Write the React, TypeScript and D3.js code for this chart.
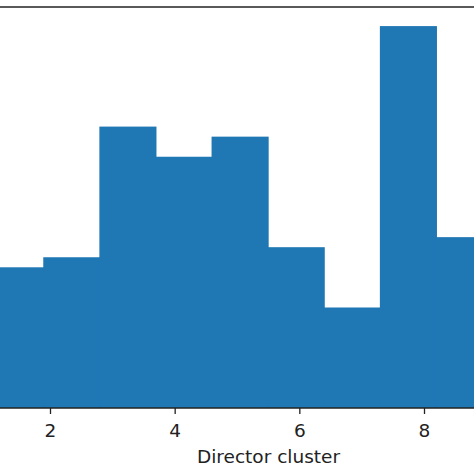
import React, { useEffect, useRef } from "react";
import * as d3 from "d3";

// histogram of director cluster ids, 10 bins from 1 to 10
const binEdges = [1, 1.9, 2.8, 3.7, 4.6, 5.5, 6.4, 7.3, 8.2, 9.1, 10];
const binCounts = [14, 15, 28, 25, 27, 16, 10, 38, 17, 12];
const xTicks = [2, 4, 6, 8];
const xLabel = "Director cluster";

const width = 474;
const height = 474;
const plot = { top: 7, bottom: 408 };
const fontSize = "18.5px";

export default function App() {
  const ref = useRef<SVGSVGElement>(null);

  useEffect(() => {
    const svg = d3.select(ref.current);
    svg.selectAll("*").remove();

    // visible part of the x range: 2 at 50px, 8 at 424px
    const x = d3.scaleLinear().domain([2, 8]).range([50, 424]);
    const y = d3
      .scaleLinear()
      .domain([0, d3.max(binCounts)! * 1.05])
      .range([plot.bottom, plot.top]);

    const bins = binCounts.map((c, i) => ({
      x0: binEdges[i],
      x1: binEdges[i + 1],
      count: c,
    }));

    // bars overlap by half a pixel so no seams show
    svg
      .append("g")
      .selectAll("rect")
      .data(bins)
      .join("rect")
      .attr("x", (d) => x(d.x0) - 0.5)
      .attr("width", (d) => x(d.x1) - x(d.x0) + 1)
      .attr("y", (d) => y(d.count))
      .attr("height", (d) => y(0) - y(d.count))
      .style("fill", "#1f77b4");

    // top spine
    svg
      .append("line")
      .attr("x1", 0)
      .attr("x2", width)
      .attr("y1", plot.top)
      .attr("y2", plot.top)
      .style("stroke", "#222")
      .style("stroke-width", 1.4);

    // x axis
    const axis = svg
      .append("g")
      .attr("transform", `translate(0, ${plot.bottom})`)
      .call(
        d3
          .axisBottom(x)
          .tickValues(xTicks)
          .tickFormat(d3.format("d"))
          .tickSize(6)
      );
    axis.select(".domain").remove();
    axis
      .append("line")
      .attr("x1", 0)
      .attr("x2", width)
      .style("stroke", "#222")
      .style("stroke-width", 1.4);
    axis.selectAll(".tick line").style("stroke", "#222").style("stroke-width", 1.3);
    axis
      .selectAll(".tick text")
      .attr("y", 29)
      .attr("dy", null)
      .style("font-family", "DejaVu Sans")
      .style("font-size", fontSize)
      .style("fill", "#222");

    svg
      .append("text")
      .attr("x", 268.5)
      .attr("y", 463)
      .attr("text-anchor", "middle")
      .style("font-family", "DejaVu Sans")
      .style("font-size", fontSize)
      .style("fill", "#222")
      .text(xLabel);
  }, []);

  return (
    <svg
      ref={ref}
      width={width}
      height={height}
      style={{ position: "absolute", left: 0, top: 0, background: "#fff" }}
    />
  );
}
